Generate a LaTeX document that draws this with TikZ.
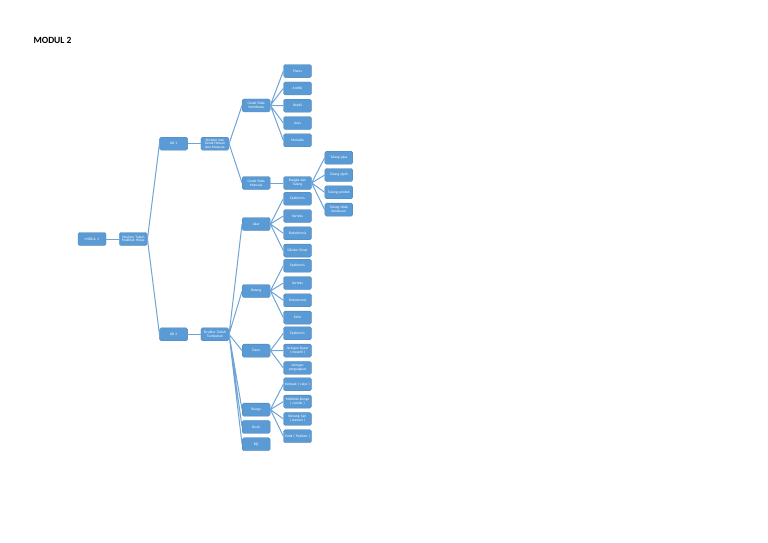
\documentclass[tikz,border=0pt]{standalone}
\usepackage{fontspec}
\setmainfont{Carlito}
\usepackage{xcolor}
\usepackage{tikz}
\usetikzlibrary{positioning}
\definecolor{boxblue}{HTML}{5B9BD5}
\definecolor{lineblue}{HTML}{6FA4D8}

\begin{document}
\begin{tikzpicture}[
  x=1pt, y=-1pt,
  node distance=4pt and 13pt,
  box/.style={fill=boxblue, draw=boxblue!85!black, line width=0.3pt, rounded corners=1.6pt, minimum width=28pt, minimum height=13pt, text width=26pt, align=center, inner sep=0.5pt, text=white, font=\fontsize{3.6}{3.9}\selectfont},
  link/.style={draw=lineblue, line width=1pt}
]
\useasboundingbox (0,0) rectangle (768,543);
\node[anchor=west, font=\fontsize{9.5}{11}\selectfont\bfseries] (title) at (30,40) {MODUL 2};

\node[box] (modul) at (92,239) {MODUL 2};
\node[box, right=13pt of modul] (makhluk) {Struktur Tubuh Makhluk Hidup};
\node[box, above right=82pt and 12pt of makhluk] (kd1) {KD 1};
\node[box, below right=82pt and 12pt of makhluk] (kd2) {KD 2};
\node[box, right=of kd1] (hewan) {Struktur dan Gerak Hewan dan Manusia};
\node[box, right=of kd2] (tumbuhan) {Struktur Tubuh Tumbuhan};

% hewan dan manusia
\node[box, above right=25pt and 13pt of hewan] (vert) {Gerak Pada Vertebrata};
\node[box, below right=26pt and 13pt of hewan] (manusia) {Gerak Pada Manusia};
\node[box, above right=21pt and 13pt of vert] (pisces) {Pisces};
\node[box, below=of pisces] (amfibi) {Amfibi};
\node[box, below=of amfibi] (reptil) {Reptil};
\node[box, below=of reptil] (aves) {Aves};
\node[box, below=of aves] (mamalia) {Mamalia};
\node[box, right=of manusia] (rangka) {Rangka dan Tulang};
\node[box, above right=12pt and 13pt of rangka] (pipa) {Tulang pipa};
\node[box, below=of pipa] (pipih) {Tulang pipih};
\node[box, below=of pipih] (pendek) {Tulang pendek};
\node[box, below=of pendek] (tidak) {Tulang tidak beraturan};

% tumbuhan
\node[box, above right=97pt and 13pt of tumbuhan] (akar) {Akar};
\node[box, above right=30pt and 13pt of tumbuhan] (batang) {Batang};
\node[box, below right=3pt and 13pt of tumbuhan] (daun) {Daun};
\node[box, below right=62pt and 13pt of tumbuhan] (bunga) {Bunga};
\node[box, below=of bunga] (buah) {Buah};
\node[box, below=of buah] (biji) {Biji};

\node[box, above right=12pt and 13pt of akar] (aepi) {Epidermis};
\node[box, below=of aepi] (akor) {Korteks};
\node[box, below=of akor] (aendo) {Endodermis};
\node[box, below=of aendo] (apusat) {Silinder Pusat};

\node[box, above right=12pt and 13pt of batang] (bepi) {Epidermis};
\node[box, below=of bepi] (bkor) {Korteks};
\node[box, below=of bkor] (bendo) {Endodermis};
\node[box, below=of bendo] (bstele) {Stele};

\node[box, above right=4pt and 13pt of daun] (depi) {Epidermis};
\node[box, below=of depi] (ddasar) {Jaringan Dasar ( mesofil )};
\node[box, below=of ddasar] (dangkut) {Jaringan pengangkut};

\node[box, above right=12pt and 13pt of bunga] (kelopak) {Kelopak ( calyx )};
\node[box, below=of kelopak] (mahkota) {Mahkota Bunga ( corolla )};
\node[box, below=of mahkota] (benang) {Benang Sari ( stamen )};
\node[box, below=of benang] (putik) {Putik ( Pistilum )};

\draw[link] (modul.east) -- (makhluk.west);
\draw[link] (makhluk.east) -- (kd1.west) (makhluk.east) -- (kd2.west);
\draw[link] (kd1.east) -- (hewan.west);
\draw[link] (kd2.east) -- (tumbuhan.west);
\draw[link] (hewan.east) -- (vert.west) (hewan.east) -- (manusia.west);
\draw[link] (vert.east) -- (pisces.west) (vert.east) -- (amfibi.west) (vert.east) -- (reptil.west)
  (vert.east) -- (aves.west) (vert.east) -- (mamalia.west);
\draw[link] (manusia.east) -- (rangka.west);
\draw[link] (rangka.east) -- (pipa.west) (rangka.east) -- (pipih.west) (rangka.east) -- (pendek.west)
  (rangka.east) -- (tidak.west);
\draw[link] (tumbuhan.east) -- (akar.west) (tumbuhan.east) -- (batang.west) (tumbuhan.east) -- (daun.west)
  (tumbuhan.east) -- (bunga.west) (tumbuhan.east) -- (buah.west) (tumbuhan.east) -- (biji.west);
\draw[link] (akar.east) -- (aepi.west) (akar.east) -- (akor.west) (akar.east) -- (aendo.west)
  (akar.east) -- (apusat.west);
\draw[link] (batang.east) -- (bepi.west) (batang.east) -- (bkor.west) (batang.east) -- (bendo.west)
  (batang.east) -- (bstele.west);
\draw[link] (daun.east) -- (depi.west) (daun.east) -- (ddasar.west) (daun.east) -- (dangkut.west);
\draw[link] (bunga.east) -- (kelopak.west) (bunga.east) -- (mahkota.west) (bunga.east) -- (benang.west)
  (bunga.east) -- (putik.west);
\end{tikzpicture}
\end{document}
